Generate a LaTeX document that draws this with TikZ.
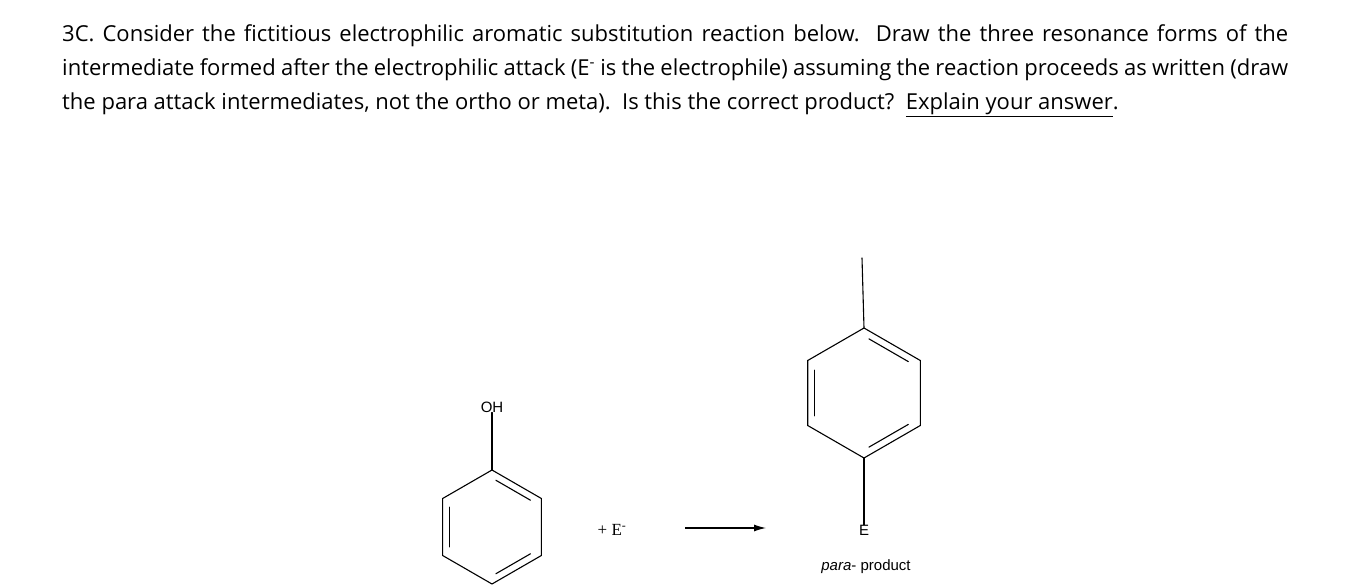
\documentclass[tikz,border=0pt]{standalone}
\usepackage{fontspec}
\usetikzlibrary{calc,arrows.meta}
\setmainfont{Open Sans}
\newfontfamily\arialf{Liberation Sans}
\newfontfamily\timesf{Liberation Serif}
\begin{document}
\begin{tikzpicture}[x=1pt,y=-1pt,bond/.style={line width=1.1pt,line cap=round}]
\useasboundingbox (0,0) rectangle (1346,588);
\node[anchor=north west,inner sep=0,text width=1226pt,align=justify,font=\fontsize{22}{34}\selectfont] (q) at (62,24)
{3C. Consider the fictitious electrophilic aromatic substitution reaction below.\ \ Draw the three resonance forms of the intermediate formed after the electrophilic attack (E\textsuperscript{-} is the electrophile) assuming the reaction proceeds as written (draw the para attack intermediates, not the ortho or meta).\ \ Is this the correct product?\ \ \underline{Explain your answer}.};
% phenol
\foreach \i in {0,...,5} \coordinate (p\i) at ($(492,527)+(60*\i-90:57)$);
\draw[bond] (p0)--(p1)--(p2)--(p3)--(p4)--(p5)--cycle;
\draw[bond] ($(p0)!0.15!(p1)+(-3.5,6)$)--($(p1)!0.15!(p0)+(-3.5,6)$);
\draw[bond] ($(p2)!0.15!(p3)+(-3.5,-6)$)--($(p3)!0.15!(p2)+(-3.5,-6)$);
\draw[bond] ($(p4)!0.15!(p5)+(7,0)$)--($(p5)!0.15!(p4)+(7,0)$);
\node[font=\arialf\fontsize{15}{15}\selectfont,inner sep=0] (oh) at (492,407) {OH};
\draw[bond] (p0)--(oh.south);
\node[font=\timesf\fontsize{17}{17}\selectfont] (e) at (612,530) {+ E\textsuperscript{-}};
\coordinate (a1) at (685,528); \coordinate (a2) at (766,528);
\draw[line width=1.1pt,-{Latex[length=12pt,width=7pt]}] (a1)--(a2);
% product
\foreach \i in {0,...,5} \coordinate (q\i) at ($(864,393)+(60*\i-90:65)$);
\draw[bond] (q0)--(q1)--(q2)--(q3)--(q4)--(q5)--cycle;
\draw[bond] ($(q0)!0.15!(q1)+(-3.5,6)$)--($(q1)!0.15!(q0)+(-3.5,6)$);
\draw[bond] ($(q2)!0.15!(q3)+(-3.5,-6)$)--($(q3)!0.15!(q2)+(-3.5,-6)$);
\draw[bond] ($(q4)!0.15!(q5)+(7,0)$)--($(q5)!0.15!(q4)+(7,0)$);
\coordinate (me) at (862,258);
\draw[bond] (q0)--(me);
\node[font=\arialf\fontsize{15}{15}\selectfont,inner sep=0] (E) at (864,530) {E};
\draw[bond] (q3)--(E.north);
\node[font=\arialf\fontsize{15}{15}\selectfont] (pp) at (866,567) {\textit{para}- product};
\end{tikzpicture}
\end{document}
